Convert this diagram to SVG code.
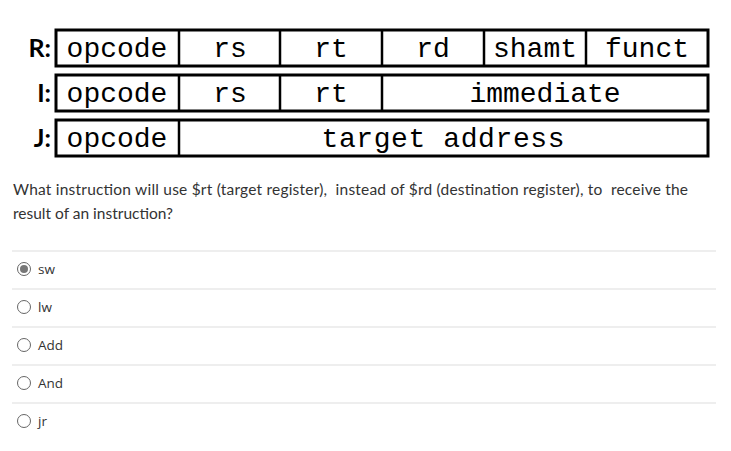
<svg xmlns="http://www.w3.org/2000/svg" width="731" height="451" viewBox="0 0 731 451">
<style>
.box{fill:#fff;stroke:#000;stroke-width:3}
.div{stroke:#000;stroke-width:2.5}
.m{font-family:"Liberation Mono","Courier New",monospace;font-size:28px;fill:#000;text-anchor:middle}
.lab{font-family:Lato,"Liberation Sans",sans-serif;font-weight:bold;font-size:25px;fill:#000;text-anchor:end}
.q{font-family:Lato,"Liberation Sans",sans-serif;font-size:15.5px;fill:#333}
.sep{stroke:#ddd;stroke-width:1}
.rad{fill:#fff;stroke:#666;stroke-width:1}
.opt{font-family:"Open Sans","Liberation Sans",sans-serif;font-size:13.5px;fill:#333}
</style>
<rect width="731" height="451" fill="#fff"/>
<g id="R">
<text class="lab" x="51" y="57">R:</text>
<rect class="box" x="56" y="30" width="652" height="36"/>
<line class="div" x1="179" y1="30" x2="179" y2="66"/><line class="div" x1="280" y1="30" x2="280" y2="66"/><line class="div" x1="382" y1="30" x2="382" y2="66"/><line class="div" x1="484" y1="30" x2="484" y2="66"/><line class="div" x1="586" y1="30" x2="586" y2="66"/>
<text class="m" x="117" y="57">opcode</text><text class="m" x="230" y="57">rs</text><text class="m" x="331" y="57">rt</text><text class="m" x="433" y="57">rd</text><text class="m" x="535" y="57">shamt</text><text class="m" x="647" y="57">funct</text>
</g>
<g id="I">
<text class="lab" x="51" y="102">I:</text>
<rect class="box" x="56" y="75" width="652" height="36"/>
<line class="div" x1="179" y1="75" x2="179" y2="111"/><line class="div" x1="280" y1="75" x2="280" y2="111"/><line class="div" x1="382" y1="75" x2="382" y2="111"/>
<text class="m" x="117" y="102">opcode</text><text class="m" x="230" y="102">rs</text><text class="m" x="331" y="102">rt</text><text class="m" x="545" y="102">immediate</text>
</g>
<g id="J">
<text class="lab" x="51" y="147">J:</text>
<rect class="box" x="56" y="120" width="652" height="36"/>
<line class="div" x1="179" y1="120" x2="179" y2="156"/>
<text class="m" x="443" y="147" textLength="243" lengthAdjust="spacing">target address</text><text class="m" x="117" y="147">opcode</text>
</g>
<g id="question">
<text class="q" x="13" y="195" xml:space="preserve" textLength="675" lengthAdjust="spacing">What instruction will use $rt (target register),  instead of $rd (destination register), to  receive the</text>
<text class="q" x="13" y="219">result of an instruction?</text>
</g>
<g id="options">
<line class="sep" x1="12" y1="251" x2="716" y2="251"/><line class="sep" x1="12" y1="289" x2="716" y2="289"/><line class="sep" x1="12" y1="327" x2="716" y2="327"/><line class="sep" x1="12" y1="365" x2="716" y2="365"/><line class="sep" x1="12" y1="403" x2="716" y2="403"/>
<circle class="rad" cx="24" cy="269" r="6.5"/><circle cx="24" cy="269" r="4" fill="#777"/>
<circle class="rad" cx="24" cy="307" r="6.5"/><circle class="rad" cx="24" cy="345" r="6.5"/><circle class="rad" cx="24" cy="383" r="6.5"/><circle class="rad" cx="24" cy="421" r="6.5"/>
<text class="opt" x="38" y="274">sw</text><text class="opt" x="38" y="312">lw</text><text class="opt" x="38" y="350">Add</text><text class="opt" x="38" y="388">And</text><text class="opt" x="38" y="426">jr</text>
</g>
</svg>
